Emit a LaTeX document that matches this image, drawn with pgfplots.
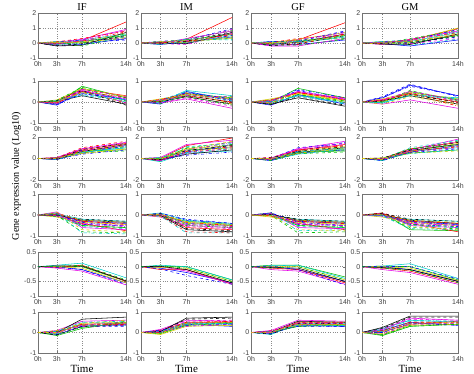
\documentclass[border=0pt]{standalone}
\usepackage{fontspec}
\setmainfont{Liberation Serif}
\setsansfont{Liberation Sans}
\usepackage{pgfplots}
\usepackage{pgfplotstable}
\pgfplotsset{compat=1.18}
\definecolor{mb}{rgb}{0,0,1}
\definecolor{mg}{rgb}{0,0.75,0}
\definecolor{mr}{rgb}{1,0,0}
\definecolor{mc}{rgb}{0,0.8,0.8}
\definecolor{mm}{rgb}{0.9,0,0.9}
\definecolor{my}{rgb}{0.85,0.8,0}
\definecolor{mk}{rgb}{0,0,0}
\pgfplotscreateplotcyclelist{matlab}{%
mb,solid\\mg,solid\\mr,solid\\mc,solid\\mm,solid\\my,solid\\mk,solid\\%
mb,dashed\\mg,dashed\\mr,dashed\\mc,dashed\\mm,dashed\\my,dashed\\mk,dashed\\%
mb,dashdotted\\mg,dashdotted\\mr,dashdotted\\mc,dashdotted\\mm,dashdotted\\my,dashdotted\\mk,dashdotted\\%
mb,dotted\\mg,dotted\\mr,dotted\\mc,dotted\\mm,dotted\\my,dotted\\mk,dotted\\}
\pgfplotsset{
 pan/.style={
  scale only axis, anchor=south west,
  xmin=0, xmax=14, xtick={0,3,7,14}, xticklabels={0h,3h,7h,14h},
  grid=major, major grid style={dotted, black!45, line width=0.4pt},
  tick align=inside, major tick length=2pt,
  axis line style={black!55, line width=0.5pt}, tick style={black!55},
  ticklabel style={font=\sffamily\fontsize{7}{7}\selectfont, text=black!75},
  xticklabel style={inner xsep=1pt, inner ysep=0pt, yshift=-2.8pt},
  yticklabel style={inner xsep=1.5pt, inner ysep=0pt},
  cycle list name=matlab,
  every axis plot/.append style={line width=0.55pt, mark=none},
  /pgf/number format/assume math mode=true,
  every axis title/.style={at={(0.5,1)},anchor=base,yshift=2.5pt,font=\fontsize{10.5}{12}\selectfont},
  every axis x label/.style={at={(0.5,0)},anchor=north,yshift=-9pt,font=\fontsize{11}{12}\selectfont},
 },
 ra/.style={ymin=-1,ymax=2,ytick={-1,0,1,2},yticklabels={-1,0,1,2}},
 rb/.style={ymin=-1,ymax=1,ytick={-1,0,1},yticklabels={-1,0,1}},
 rc/.style={ymin=-2,ymax=2,ytick={-2,0,2},yticklabels={-2,0,2}},
 re/.style={ymin=-1,ymax=0.5,ytick={-1,-0.5,0,0.5},yticklabels={-1,-0.5,0,0.5}},
 c1/.style={width=88pt}, c2/.style={width=91pt}, c3/.style={width=94pt}, c4/.style={width=96pt},
}
\newcommand\lines[2]{\pgfplotsinvokeforeach{1,...,#2}{\addplot table[x index=0,y index=##1]{#1};}}
% row 1
\pgfplotstableread{
0 0 0 0 0 0 0 0 0 0 0 0 0 0 0 0 0 0 0 0 0
3 -0.15 -0.1 -0.05 0 0.05 0.1 -0.2 -0.08 0.02 0.08 -0.12 -0.03 0.04 -0.18 0.06 -0.06 0 0.1 -0.1 0.03
7 -0.1 0.1 0.15 0.2 0.25 0 -0.15 0.05 -0.2 0.3 0.1 0.15 0.05 -0.05 0.2 0 0.12 -0.1 0.18 0.08
14 0.3 0.5 1.4 0.6 0.9 0.4 0.7 0.2 0.45 0.8 0.55 0.35 0.65 0.5 0.25 0.6 0.75 0.4 0.85 0.3
}\Da
\pgfplotstableread{
0 0 0 0 0 0 0 0 0 0 0 0 0 0 0 0 0 0 0 0 0
3 -0.1 0.05 0 0.1 -0.05 0.08 -0.02 0.12 -0.08 0.03 0.06 -0.04 0.1 0 -0.06 0.04 0.02 -0.1 0.07 -0.03
7 0.1 0.2 0.25 0 0.3 0.15 -0.05 0.2 0.05 0.1 0.25 -0.1 0.18 0.12 0 0.22 0.08 0.28 0.15 0.05
14 0.4 0.6 1.7 0.5 0.8 0.3 0.7 0.95 0.35 0.55 0.2 0.65 0.45 0.75 0.5 0.85 0.6 0.25 0.9 0.4
}\Db
\pgfplotstableread{
0 0 0 0 0 0 0 0 0 0 0 0 0 0 0 0 0 0 0 0 0
3 -0.15 -0.05 0.05 0.1 -0.2 0 -0.1 0.08 -0.12 0.03 -0.08 0.06 -0.02 -0.18 0.1 0 -0.05 0.04 -0.1 0.02
7 -0.1 0.1 0.2 0 -0.2 0.25 0.05 0.15 -0.15 0.3 0.1 0 0.2 -0.05 0.12 0.18 -0.1 0.08 0.22 0.02
14 0.2 0.5 1.35 0.4 0.3 0.7 0.6 0.8 0.25 0.55 0.45 0.65 0.35 0.5 0.75 0.3 0.6 0.4 0.7 0.5
}\Dc
\pgfplotstableread{
0 0 0 0 0 0 0 0 0 0 0 0 0 0 0 0 0 0 0 0 0
3 -0.05 0 0.05 0.1 -0.1 0.08 -0.08 0.02 -0.03 0.06 0.1 -0.06 0.04 -0.02 0.07 0 -0.04 0.03 0.05 -0.07
7 -0.2 0 0.2 0.1 0.25 0.15 -0.1 0.05 0.3 0.1 0.2 -0.05 0.12 0 0.18 0.08 0.22 -0.15 0.15 0.05
14 0.2 0.5 0.95 0.7 0.8 1.0 0.6 0.4 0.85 0.55 0.75 0.3 0.65 0.45 0.9 0.5 0.7 0.25 0.8 0.6
}\Dd
% row 2
\pgfplotstableread{
0 0 0 0 0 0 0 0 0 0 0 0 0 0 0 0 0 0 0 0 0
3 -0.15 -0.1 0.05 0 -0.05 0.1 0.02 -0.12 0.08 -0.03 0.04 -0.08 0 0.06 -0.1 0.03 -0.05 0.07 -0.02 0.01
7 0.5 0.75 0.6 0.45 0.55 0.65 0.3 0.4 0.7 0.5 0.35 0.6 0.45 0.55 0.4 0.65 0.5 0.3 0.6 0.45
14 0.1 0.2 0.3 0 0.15 0.25 -0.1 0.05 0.2 -0.05 0.1 0.25 0 -0.15 0.15 0.05 0.2 0.1 -0.05 0.3
}\De
\pgfplotstableread{
0 0 0 0 0 0 0 0 0 0 0 0 0 0 0 0 0 0 0 0 0
3 -0.1 0.05 0.1 0 -0.05 0.15 0.02 0.08 -0.08 0.03 0.1 -0.03 0.06 0 -0.06 0.04 0.12 -0.02 0.07 0.01
7 0.5 0.4 0.3 0.55 0.15 0.35 0.25 0.45 0.3 0.4 0.5 0.2 0.35 0.3 0.45 0.25 0.4 0.35 0.3 0.45
14 0.1 0.2 0 0.3 -0.3 0.15 -0.1 0.05 0.25 -0.05 0.1 -0.2 0.2 0 0.15 -0.15 0.1 0.05 0.25 -0.1
}\Df
\pgfplotstableread{
0 0 0 0 0 0 0 0 0 0 0 0 0 0 0 0 0 0 0 0 0
3 -0.15 0 0.1 -0.05 0.05 0.15 -0.1 0.02 -0.08 0.08 0 -0.03 0.06 -0.12 0.04 0.1 -0.05 0.02 0.07 -0.02
7 0.35 0.65 0.45 0.3 0.5 0.4 0.2 0.55 0.35 0.45 0.3 0.5 0.4 0.25 0.6 0.35 0.45 0.3 0.5 0.4
14 -0.1 0.2 0.1 0 0.15 0.05 -0.2 0.1 0 0.2 -0.05 0.15 0.1 -0.15 0.2 0.05 0.1 -0.1 0.15 0
}\Dg
\pgfplotstableread{
0 0 0 0 0 0 0 0 0 0 0 0 0 0 0 0 0 0 0 0 0
3 0.2 0 0.1 -0.05 -0.1 0.15 0.05 0.25 0 0.08 -0.05 0.12 -0.1 0.05 0.2 0 0.1 -0.03 0.06 0.02
7 0.8 0.5 0.4 0.35 0.1 0.45 0.3 0.85 0.55 0.4 0.3 0.5 0.25 0.35 0.75 0.45 0.4 0.3 0.5 0.35
14 0.3 0.1 0 0.2 -0.3 0.15 -0.1 0.25 0.05 -0.05 0.2 0.1 -0.15 0 0.3 0.1 -0.2 0.15 0.05 -0.1
}\Dh
% row 3
\pgfplotstableread{
0 0 0 0 0 0 0 0 0 0 0 0 0 0 0 0 0 0 0 0 0
3 -0.1 0 0.05 -0.05 0.1 0 -0.08 0.03 -0.02 0.08 0 -0.06 0.05 0.02 -0.04 0.07 0 -0.1 0.04 0.01
7 0.5 0.7 0.8 0.6 0.9 0.45 0.65 0.75 0.55 1.0 0.6 0.7 0.5 0.85 0.4 0.65 0.75 0.55 0.9 0.6
14 1.2 0.8 1.4 1.0 1.5 0.9 1.3 1.1 0.7 1.6 1.0 1.2 0.9 1.4 0.8 1.1 1.3 1.0 1.5 1.2
}\Di
\pgfplotstableread{
0 0 0 0 0 0 0 0 0 0 0 0 0 0 0 0 0 0 0 0 0
3 -0.2 -0.1 0 -0.3 0.1 -0.05 -0.15 0.05 -0.25 -0.1 0 -0.2 0.05 -0.1 -0.05 0 -0.15 0.1 -0.2 -0.05
7 0.6 0.8 1.2 0.5 1.3 0.9 0.4 0.7 1.0 0.6 1.1 0.5 0.85 0.75 0.3 0.95 0.65 0.55 0.8 0.7
14 1.3 1.0 1.9 0.7 1.7 1.2 0.8 1.1 1.5 0.9 1.4 1.0 1.6 1.2 0.6 1.3 1.1 0.9 1.5 1.0
}\Dj
\pgfplotstableread{
0 0 0 0 0 0 0 0 0 0 0 0 0 0 0 0 0 0 0 0 0
3 -0.2 -0.1 0 -0.15 0.05 -0.05 -0.1 0 -0.2 0.1 -0.05 0 -0.1 0.05 -0.15 0 -0.05 0.02 -0.1 0
7 0.5 0.6 0.8 0.4 0.9 0.7 0.55 1.0 0.45 0.75 0.6 0.85 0.5 0.65 0.7 0.55 0.8 0.6 0.95 0.5
14 0.8 0.7 1.3 0.9 1.6 1.1 1.0 1.4 0.6 1.2 0.9 1.3 1.0 1.1 1.5 0.8 1.2 1.0 1.4 0.9
}\Dk
\pgfplotstableread{
0 0 0 0 0 0 0 0 0 0 0 0 0 0 0 0 0 0 0 0 0
3 -0.15 -0.1 0 -0.2 -0.05 0.05 -0.1 0 -0.15 0.02 -0.05 0 -0.1 0.05 -0.2 0 -0.05 0.03 -0.1 0
7 0.6 0.5 0.9 0.7 0.8 0.65 0.75 0.55 0.85 0.6 1.0 0.7 0.5 0.8 0.6 0.9 0.7 0.45 0.75 0.65
14 1.2 0.8 1.5 1.0 1.8 1.4 1.3 0.9 1.6 1.1 1.7 1.0 0.7 1.5 1.2 1.3 1.1 0.8 1.6 1.2
}\Dl
% row 4
\pgfplotstableread{
0 0 0 0 0 0 0 0 0 0 0 0 0 0 0 0 0 0 0 0 0
3 0 0.1 -0.05 0.05 0.15 -0.1 0 0.08 -0.03 0.1 0.02 -0.05 0.12 0 0.05 -0.08 0.03 0.1 -0.02 0.06
7 -0.3 -0.5 -0.4 -0.2 -0.6 -0.35 -0.25 -0.45 -0.8 -0.3 -0.55 -0.4 -0.7 -0.2 -0.35 -0.5 -0.3 -0.85 -0.45 -0.25
14 -0.4 -0.6 -0.75 -0.3 -0.7 -0.45 -0.35 -0.5 -0.85 -0.4 -0.65 -0.5 -0.8 -0.3 -0.55 -0.6 -0.45 -0.9 -0.55 -0.35
}\Dm
\pgfplotstableread{
0 0 0 0 0 0 0 0 0 0 0 0 0 0 0 0 0 0 0 0 0
3 0.05 -0.05 0 0.1 -0.1 0.03 -0.02 0.08 0 -0.05 0.04 0 -0.08 0.06 0.02 -0.03 0.05 -0.06 0 0.03
7 -0.4 -0.3 -0.6 -0.25 -0.5 -0.35 -0.7 -0.2 -0.45 -0.8 -0.3 -0.55 -0.4 -0.65 -0.25 -0.5 -0.35 -0.85 -0.45 -0.3
14 -0.5 -0.45 -0.7 -0.4 -0.6 -0.5 -0.8 -0.4 -0.55 -0.85 -0.45 -0.65 -0.5 -0.75 -0.4 -0.6 -0.5 -0.85 -0.55 -0.45
}\Dn
\pgfplotstableread{
0 0 0 0 0 0 0 0 0 0 0 0 0 0 0 0 0 0 0 0 0
3 0.05 0.1 -0.05 0 0.08 -0.1 0.03 0.1 -0.02 0.05 0 0.07 -0.05 0.02 0.1 0 -0.03 0.06 0.04 -0.01
7 -0.3 -0.5 -0.4 -0.2 -0.6 -0.35 -0.25 -0.45 -0.85 -0.3 -0.55 -0.4 -0.7 -0.2 -0.35 -0.5 -0.3 -0.75 -0.45 -0.25
14 -0.4 -0.6 -0.7 -0.3 -0.65 -0.45 -0.35 -0.5 -0.8 -0.4 -0.6 -0.5 -0.75 -0.3 -0.5 -0.55 -0.4 -0.7 -0.5 -0.35
}\Do
\pgfplotstableread{
0 0 0 0 0 0 0 0 0 0 0 0 0 0 0 0 0 0 0 0 0
3 0 0.1 0.05 -0.05 0.08 -0.1 0.02 0.05 -0.03 0.1 0 -0.06 0.04 0.07 -0.02 0.03 0.06 -0.05 0 0.02
7 -0.3 -0.7 -0.4 -0.2 -0.5 -0.35 -0.25 -0.45 -0.6 -0.3 -0.5 -0.4 -0.55 -0.2 -0.35 -0.45 -0.3 -0.65 -0.4 -0.25
14 -0.45 -0.75 -0.8 -0.3 -0.6 -0.5 -0.4 -0.55 -0.65 -0.4 -0.6 -0.5 -0.7 -0.3 -0.45 -0.55 -0.4 -0.7 -0.5 -0.35
}\Dp
% row 5
\pgfplotstableread{
0 0 0 0 0 0 0 0 0 0
3 0 0.02 -0.03 0.05 -0.05 0 0.03 -0.02 0.01
7 -0.1 0 0.05 0.12 -0.15 -0.05 0.02 -0.1 0.05
14 -0.55 -0.5 -0.5 -0.38 -0.62 -0.55 -0.48 -0.6 -0.45
}\Dq
\pgfplotstableread{
0 0 0 0 0 0 0 0 0 0
3 -0.05 0.02 -0.1 0.05 0 -0.03 0.01 -0.08 0.03
7 -0.2 0 -0.1 0 -0.15 -0.05 -0.1 -0.3 -0.05
14 -0.55 -0.45 -0.6 -0.45 -0.58 -0.5 -0.55 -0.6 -0.5
}\Dr
\pgfplotstableread{
0 0 0 0 0 0 0 0 0 0
3 0 0.05 -0.05 0.03 -0.1 0 -0.03 0.02 -0.05
7 -0.1 0.05 -0.1 0.05 -0.15 0 -0.05 -0.1 0
14 -0.5 -0.35 -0.55 -0.4 -0.6 -0.45 -0.5 -0.62 -0.45
}\Ds
\pgfplotstableread{
0 0 0 0 0 0 0 0 0 0
3 0 0.02 -0.05 0.02 -0.1 0 -0.03 0.01 -0.05
7 -0.1 0 -0.15 0.1 -0.2 -0.05 -0.1 0 -0.12
14 -0.5 -0.45 -0.55 -0.4 -0.6 -0.48 -0.5 -0.42 -0.55
}\Dt
% row 6
\pgfplotstableread{
0 0 0 0 0 0 0 0 0 0 0 0 0 0 0 0 0 0 0 0 0
3 -0.1 -0.15 0 0.05 0.1 -0.05 0 -0.1 0.05 0.08 -0.05 0 0.1 -0.12 0.03 -0.08 0.02 0.06 -0.03 0
7 0.3 0.2 0.4 0.35 0.55 0.45 0.65 0.3 0.25 0.4 0.5 0.35 0.45 0.3 0.4 0.25 0.35 0.5 0.3 0.4
14 0.4 0.5 0.45 0.35 0.6 0.5 0.75 0.3 0.55 0.4 0.45 0.5 0.6 0.35 0.45 0.5 0.4 0.55 0.35 0.45
}\Du
\pgfplotstableread{
0 0 0 0 0 0 0 0 0 0 0 0 0 0 0 0 0 0 0 0 0
3 0 -0.05 0.1 0.05 0.15 -0.1 0.05 0 -0.05 0.1 0.02 0.08 -0.03 0.05 0.12 -0.02 0 0.06 0.03 -0.04
7 0.4 0.35 0.5 0.45 0.6 0.3 0.7 0.4 0.35 0.45 0.5 0.55 0.4 0.65 0.35 0.45 0.5 0.4 0.3 0.45
14 0.3 0.45 0.5 0.4 0.55 0.35 0.75 0.45 0.5 0.55 0.4 0.6 0.35 0.7 0.4 0.5 0.55 0.45 0.4 0.5
}\Dv
\pgfplotstableread{
0 0 0 0 0 0 0 0 0 0 0 0 0 0 0 0 0 0 0 0 0
3 -0.05 0 0.05 -0.1 0.1 0 0.03 -0.05 0.02 0.08 -0.03 0.05 0 -0.08 0.06 0.01 -0.02 0.04 0 0.03
7 0.35 0.3 0.4 0.45 0.6 0.5 0.55 0.35 0.3 0.45 0.4 0.5 0.35 0.45 0.3 0.4 0.5 0.35 0.45 0.4
14 0.3 0.35 0.4 0.45 0.55 0.5 0.5 0.3 0.4 0.45 0.35 0.5 0.4 0.45 0.3 0.4 0.5 0.35 0.45 0.4
}\Dw
\pgfplotstableread{
0 0 0 0 0 0 0 0 0 0 0 0 0 0 0 0 0 0 0 0 0
3 0.1 -0.15 0.05 0.2 0.15 -0.1 0.25 0 -0.1 0.1 0.05 0.15 -0.05 0.2 0 -0.12 0.08 0.12 -0.08 0.03
7 0.5 0.3 0.4 0.6 0.7 0.35 0.8 0.45 0.35 0.5 0.55 0.65 0.4 0.75 0.45 0.3 0.5 0.6 0.4 0.45
14 0.35 0.4 0.55 0.5 0.6 0.4 0.8 0.45 0.4 0.5 0.55 0.6 0.45 0.75 0.35 0.4 0.5 0.55 0.45 0.5
}\Dx
\begin{document}
\begin{tikzpicture}
\useasboundingbox (0,0) rectangle (474pt,374pt);
% row 1
\begin{axis}[pan,ra,c1,at={(38pt,316pt)},height=45pt,title={IF}]\lines{\Da}{20}\end{axis}
\begin{axis}[pan,ra,c2,at={(141pt,316pt)},height=45pt,title={IM}]\lines{\Db}{20}\end{axis}
\begin{axis}[pan,ra,c3,at={(251pt,316pt)},height=45pt,title={GF}]\lines{\Dc}{20}\end{axis}
\begin{axis}[pan,ra,c4,at={(362pt,316pt)},height=45pt,title={GM}]\lines{\Dd}{20}\end{axis}
% row 2
\begin{axis}[pan,rb,c1,at={(38pt,251pt)},height=42pt]\lines{\De}{20}\end{axis}
\begin{axis}[pan,rb,c2,at={(141pt,251pt)},height=42pt]\lines{\Df}{20}\end{axis}
\begin{axis}[pan,rb,c3,at={(251pt,251pt)},height=42pt]\lines{\Dg}{20}\end{axis}
\begin{axis}[pan,rb,c4,at={(362pt,251pt)},height=42pt]\lines{\Dh}{20}\end{axis}
% row 3
\begin{axis}[pan,rc,c1,at={(38pt,194pt)},height=43pt]\lines{\Di}{20}\end{axis}
\begin{axis}[pan,rc,c2,at={(141pt,194pt)},height=43pt]\lines{\Dj}{20}\end{axis}
\begin{axis}[pan,rc,c3,at={(251pt,194pt)},height=43pt]\lines{\Dk}{20}\end{axis}
\begin{axis}[pan,rc,c4,at={(362pt,194pt)},height=43pt]\lines{\Dl}{20}\end{axis}
% row 4
\begin{axis}[pan,rb,c1,at={(38pt,138pt)},height=42pt]\lines{\Dm}{20}\end{axis}
\begin{axis}[pan,rb,c2,at={(141pt,138pt)},height=42pt]\lines{\Dn}{20}\end{axis}
\begin{axis}[pan,rb,c3,at={(251pt,138pt)},height=42pt]\lines{\Do}{20}\end{axis}
\begin{axis}[pan,rb,c4,at={(362pt,138pt)},height=42pt]\lines{\Dp}{20}\end{axis}
% row 5
\begin{axis}[pan,re,c1,at={(38pt,78pt)},height=44pt]\lines{\Dq}{9}\end{axis}
\begin{axis}[pan,re,c2,at={(141pt,78pt)},height=44pt]\lines{\Dr}{9}\end{axis}
\begin{axis}[pan,re,c3,at={(251pt,78pt)},height=44pt]\lines{\Ds}{9}\end{axis}
\begin{axis}[pan,re,c4,at={(362pt,78pt)},height=44pt]\lines{\Dt}{9}\end{axis}
% row 6
\begin{axis}[pan,rb,c1,at={(38pt,21pt)},height=41pt,xlabel={Time}]\lines{\Du}{20}\end{axis}
\begin{axis}[pan,rb,c2,at={(141pt,21pt)},height=41pt,xlabel={Time}]\lines{\Dv}{20}\end{axis}
\begin{axis}[pan,rb,c3,at={(251pt,21pt)},height=41pt,xlabel={Time}]\lines{\Dw}{20}\end{axis}
\begin{axis}[pan,rb,c4,at={(362pt,21pt)},height=41pt,xlabel={Time}]\lines{\Dx}{20}\end{axis}
\node[rotate=90,font=\fontsize{10.2}{12}\selectfont] at (16.5pt,198pt) {Gene expression value (Log10)};
\end{tikzpicture}
\end{document}
